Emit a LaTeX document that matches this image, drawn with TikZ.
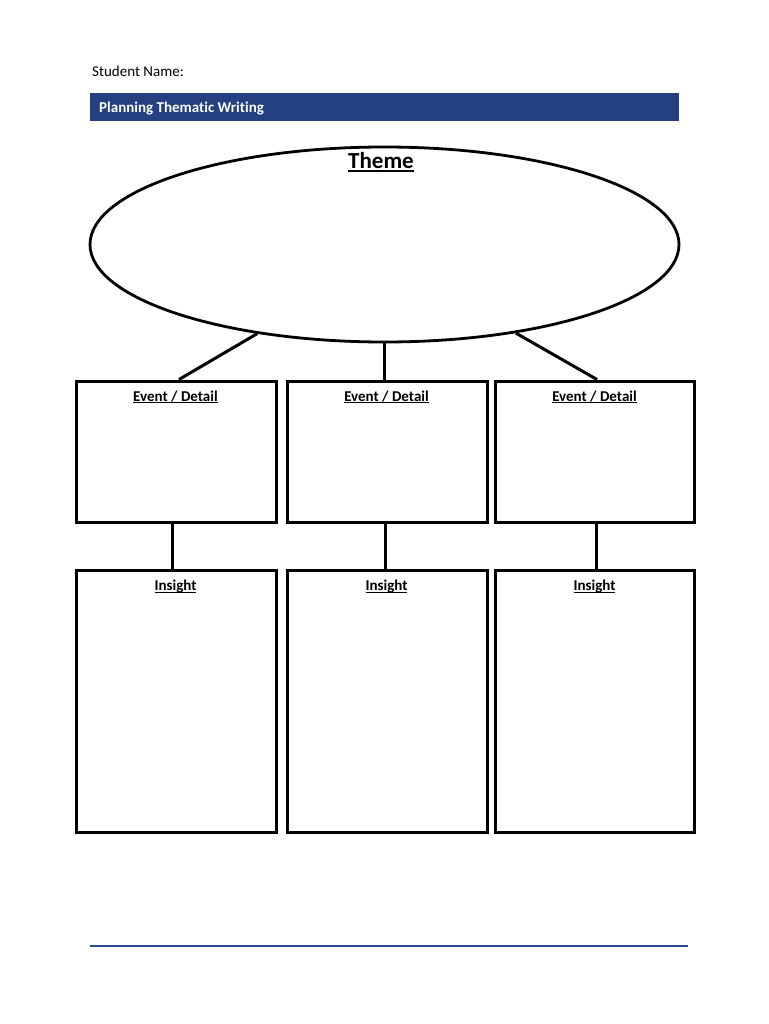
\documentclass[tikz,border=0pt]{standalone}
\usepackage{fontspec}
\setmainfont{Carlito}[Ligatures={NoCommon}]
\usetikzlibrary{shapes.geometric}
\definecolor{barblue}{RGB}{37,64,128}
\definecolor{lineblue}{RGB}{42,70,152}
\newcommand{\myul}[1]{\setbox0\hbox{#1}\rlap{\vrule height -0.09em depth 0.16em width \wd0}\box0}
\tikzset{
  frame/.style={draw=black, line width=3pt, rectangle, inner sep=0pt},
  conn/.style={draw=black, line width=3pt},
  lbl/.style={font=\fontsize{15}{17}\selectfont\bfseries, inner sep=0pt},
}
\begin{document}
\begin{tikzpicture}[x=1pt,y=-1pt]
\useasboundingbox[fill=white] (0,0) rectangle (768,1024);
% header
\node[anchor=west, inner sep=0pt, font=\fontsize{15}{17}\selectfont] (sname) at (92,71) {Student Name:};
\node[anchor=north west, fill=barblue, minimum width=589pt, minimum height=28pt, inner sep=0pt] (bar) at (90,93) {};
\node[anchor=west, inner sep=0pt, text=white, font=\fontsize{15}{17}\selectfont\bfseries] (title) at (99,108.5) {Planning Thematic Writing};
% theme ellipse
\node[ellipse, draw=black, line width=2.8pt, minimum width=589pt, minimum height=195pt, inner sep=0pt] (theme) at (384.5,244.5) {};
\node[inner sep=0pt, font=\fontsize{23}{26}\selectfont\bfseries] (themelbl) at (381,162) {\myul{Theme}};
% event boxes
\node[frame, minimum width=200pt, minimum height=141pt] (e1) at (176,451.5) {};
\node[frame, minimum width=200pt, minimum height=141pt] (e2) at (387,451.5) {};
\node[frame, minimum width=199pt, minimum height=141pt] (e3) at (594.5,451.5) {};
% insight boxes
\node[frame, minimum width=200pt, minimum height=262pt] (i1) at (176,701) {};
\node[frame, minimum width=200pt, minimum height=262pt] (i2) at (387,701) {};
\node[frame, minimum width=199pt, minimum height=262pt] (i3) at (594.5,701) {};
% labels
\node[lbl] (le1) at (175.5,397) {\myul{Event / Detail}};
\node[lbl] (le2) at (386.5,397) {\myul{Event / Detail}};
\node[lbl] (le3) at (594.5,397) {\myul{Event / Detail}};
\node[lbl] (li1) at (175.5,587) {\myul{Insight}};
\node[lbl] (li2) at (386.5,587) {\myul{Insight}};
\node[lbl] (li3) at (594.5,587) {\myul{Insight}};
% connectors theme -> events
\draw[conn] (theme.215) -- ([xshift=3pt]e1.north);
\draw[conn] (theme.south) -- (theme.south |- e2.north);
\draw[conn] (theme.326) -- ([xshift=2.5pt]e3.north);
% connectors events -> insights
\draw[conn] ([xshift=-4pt]e1.south) -- ([xshift=-4pt]i1.north);
\draw[conn] ([xshift=-2pt]e2.south) -- ([xshift=-2pt]i2.north);
\draw[conn] ([xshift=1.5pt]e3.south) -- ([xshift=1.5pt]i3.north);
% footer line
\coordinate (fl) at (90,946);
\coordinate (fr) at (688,946);
\draw[draw=lineblue, line width=2pt] (fl) -- (fr);
\end{tikzpicture}
\end{document}
